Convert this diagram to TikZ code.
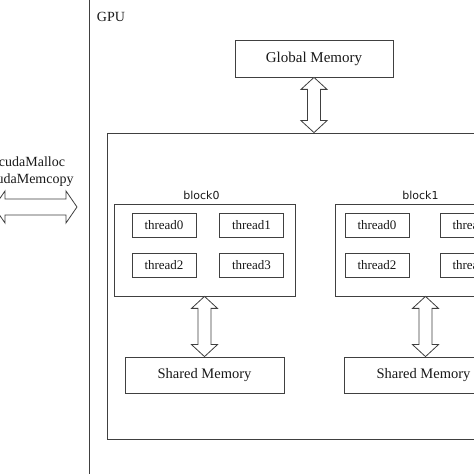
\documentclass[tikz,border=0pt]{standalone}
\usepackage{fontspec}
\setmainfont{Liberation Serif}
\newfontfamily\blkfont{DejaVu Sans}
\usetikzlibrary{calc}

% hollow double arrows between two named points
\newcommand{\vfat}[2]{\path[fat] let \p1=(#1), \p2=(#2) in
  (\x1,\y1) -- ++(13pt,-12pt) -- ++(-6.5pt,0) -- (\x1+6.5pt,\y2+12pt) -- ++(6.5pt,0)
  -- (\x1,\y2) -- ++(-13pt,12pt) -- ++(6.5pt,0) -- (\x1-6.5pt,\y1-12pt) -- ++(-6.5pt,0) -- cycle;}
\newcommand{\hfat}[2]{\path[fat] let \p1=(#1), \p2=(#2) in
  (\x1,\y2) -- ++(11pt,16pt) -- ++(0,-8pt) -- (\x2-11pt,\y2+8pt) -- ++(0,8pt)
  -- (\x2,\y2) -- ++(-11pt,-16pt) -- ++(0,8pt) -- (\x1+11pt,\y2-8pt) -- ++(0,-8pt) -- cycle;}

\begin{document}
\begin{tikzpicture}[x=1pt,y=1pt,line width=0.8pt,
    box/.style={draw=black!75,inner sep=0,text=black!90,font=\fontsize{14.5}{17}\selectfont},
    thr/.style={box,minimum width=64pt,minimum height=24pt,font=\fontsize{13}{15}\selectfont},
    blk/.style={box,minimum width=181pt,minimum height=92pt},
    mem/.style={box,minimum width=159pt,minimum height=36pt},
    fat/.style={draw=black!75,fill=white,line join=miter}]
  \useasboundingbox (0,0) rectangle (474,474);
  \clip (0,0) rectangle (474,474);
  \fill[white] (0,0) rectangle (474,474);

  % GPU frame
  \node[box,minimum width=430pt,minimum height=520pt,anchor=south west] (gpu) at (89,-20) {};
  \node[text=black!90,font=\fontsize{14}{16}\selectfont] (gpulab) at (111,457) {GPU};
  \node[box,minimum width=158pt,minimum height=37pt,font=\fontsize{15}{18}\selectfont] (gm) at (314,415.5) {Global Memory};
  \node[box,minimum width=413pt,minimum height=306pt] (grid) at (313.5,188) {};

  % block0
  \node[blk,label={[font=\blkfont\fontsize{11}{13}\selectfont,text=black!90,xshift=-3pt]above:block0}] (b0) at (204.5,224) {};
  \node[thr] (b0t0) at (164,249) {thread0};
  \node[thr] (b0t1) at (251.5,249) {thread1};
  \node[thr] (b0t2) at (164,209) {thread2};
  \node[thr] (b0t3) at (251.5,209) {thread3};
  \node[mem] (sm0) at (204.5,99) {Shared Memory};

  % block1
  \node[blk,label={[font=\blkfont\fontsize{11}{13}\selectfont,text=black!90,xshift=-5pt]above:block1}] (b1) at (425.5,224) {};
  \node[thr] (b1t0) at (377,249) {thread0};
  \node[thr] (b1t1) at (472,249) {thread1};
  \node[thr] (b1t2) at (377,209) {thread2};
  \node[thr] (b1t3) at (472,209) {thread3};
  \node[mem] (sm1) at (423.5,99) {Shared Memory};

  % host side
  \node[align=center,text=black!90,font=\fontsize{14}{17}\selectfont] (cuda) at (32,302.5) {cudaMalloc\\cudaMemcopy};
  \coordinate (host) at (-6,267);
  \coordinate (dev) at (77,267);

  \vfat{gm.south}{grid.north}
  \vfat{b0.south}{sm0.north}
  \vfat{b1.south}{sm1.north}
  \hfat{host}{dev}
\end{tikzpicture}
\end{document}
